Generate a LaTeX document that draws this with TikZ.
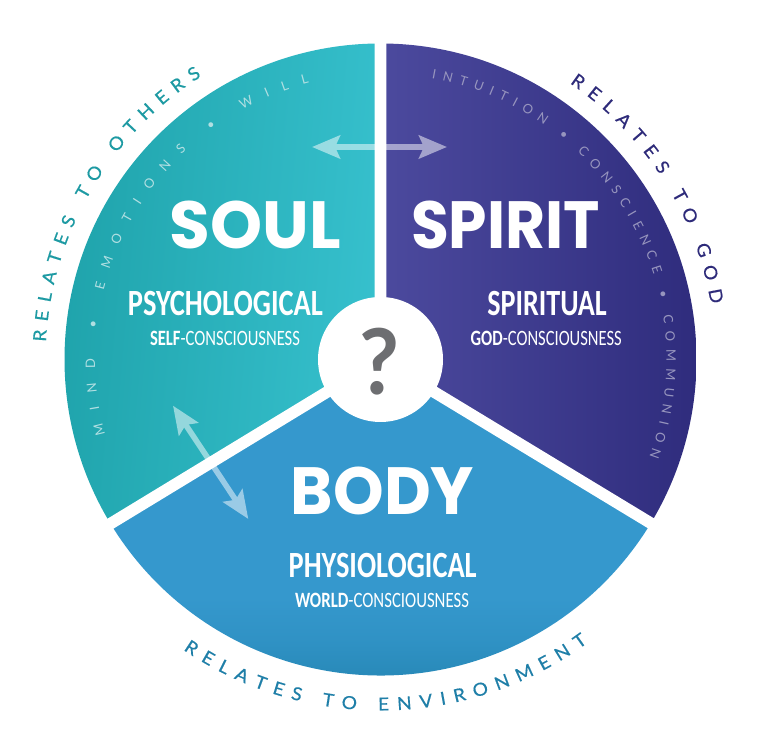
\documentclass[tikz,border=0pt]{standalone}
\usepackage{fontspec}
\usepackage{graphicx}
\usetikzlibrary{decorations.text,arrows.meta,calc}
\newfontfamily\titlefont{Poppins}
\newfontfamily\qfont{Lato}
\newfontfamily\curvefont[FakeBold=0.45,FakeStretch=1.06]{Lato}
\newfontfamily\innerfont{Lato}
\newfontfamily\subfont{Carlito}
\definecolor{soulD}{HTML}{1FA3AB}
\definecolor{soulL}{HTML}{37C1CE}
\definecolor{spiritL}{HTML}{4C4A9E}
\definecolor{spiritD}{HTML}{2F2C7D}
\definecolor{bodyM}{HTML}{3598CD}
\definecolor{bodyD}{HTML}{1F7FAA}
\definecolor{othersC}{HTML}{1D9AA3}
\definecolor{godC}{HTML}{2E2B7A}
\definecolor{envC}{HTML}{1F7FA8}
\definecolor{qC}{HTML}{6D6E71}
\pgfdeclareverticalshading{bodyshade}{100bp}{color(0bp)=(bodyD); color(25bp)=(bodyD); color(30bp)=(bodyD!65!bodyM); color(36bp)=(bodyD!25!bodyM); color(42bp)=(bodyM); color(100bp)=(bodyM)}
\newcommand{\fitt}[3]{\resizebox*{#1pt}{#2pt}{#3}}
\tikzset{
  lab/.style={inner sep=0pt,outer sep=0pt,text=white},
  outerlab/.style={decorate,decoration={text along path,text align=fit to path,text={#1}}},
  dblarrow/.style={draw=white,line width=5.6pt,{Stealth[length=28pt,width=23pt,inset=5pt]}-{Stealth[length=28pt,width=23pt,inset=5pt]}},
}
\begin{document}
\begin{tikzpicture}[x=1pt,y=1pt]
\useasboundingbox (0,0) rectangle (760,749);
\fill[white] (0,0) rectangle (760,749);
\coordinate (C) at (380.5,389.5);
\def\R{316}
% sectors
\shade[top color=soulD,bottom color=soulL,shading angle=85] (C) -- ($(C)+(90:\R)$) arc[start angle=90,end angle=211.3,radius=\R] -- cycle;
\shade[left color=spiritL,right color=spiritD] (C) -- ($(C)+(90:\R)$) arc[start angle=90,end angle=-31.2,radius=\R] -- cycle;
\shade[shading=bodyshade] (C) -- ($(C)+(211.3:\R)$) arc[start angle=211.3,end angle=328.8,radius=\R] -- cycle;
% gaps
\coordinate (T) at ($(C)+(90:325)$);
\coordinate (GL) at ($(C)+(211.3:325)$);
\coordinate (GR) at ($(C)+(-31.2:325)$);
\draw[white,line width=11.6pt] (C) -- (T) (C) -- (GL) (C) -- (GR);
\fill[white] (C) circle[radius=62.5];
% question mark
\node[lab,text=qC] (q) at (379.5,387) {\fitt{40}{67}{\qfont\bfseries ?}};
% arrows
\coordinate (h1) at (312,602);
\coordinate (h2) at (447,602);
\coordinate (d1) at (173,343.3);
\coordinate (d2) at (248.3,230);
\begin{scope}[transparency group,opacity=.5]
\draw[dblarrow] (h1) -- (h2);
\draw[dblarrow] (d1) -- (d2);
\end{scope}
% big titles
\node[lab] (soul) at (255.5,524) {\fitt{171}{48}{\titlefont\bfseries SOUL}};
\node[lab] (spirit) at (505.5,524) {\fitt{189}{48}{\titlefont\bfseries SPIRIT}};
\node[lab] (body) at (382.5,258) {\fitt{183}{48}{\titlefont\bfseries BODY}};
% subtitles
\node[lab] (psy) at (225.5,445.3) {\fitt{195}{24.5}{\subfont\bfseries PSYCHOLOGICAL}};
\node[lab] (spi) at (547,445.3) {\fitt{119.5}{24.5}{\subfont\bfseries SPIRITUAL}};
\node[lab] (phy) at (382.7,183.7) {\fitt{188}{24.5}{\subfont\bfseries PHYSIOLOGICAL}};
\node[lab] (self) at (225,411) {\fitt{150}{14.5}{\subfont{\bfseries SELF}-CONSCIOUSNESS}};
\node[lab] (god) at (546.2,411) {\fitt{151}{14.5}{\subfont{\bfseries GOD}-CONSCIOUSNESS}};
\node[lab] (world) at (382,148.5) {\fitt{174}{14.5}{\subfont{\bfseries WORLD}-CONSCIOUSNESS}};
% outer curved labels
\path[outerlab={|\fontsize{18}{18}\curvefont\color{othersC}|RELATES TO OTHERS}] ($(C)+(177:335)$) arc[start angle=177,end angle=122.3,radius=335];
\path[outerlab={|\fontsize{18}{18}\curvefont\color{godC}|RELATES TO GOD}] ($(C)+(55.6:335)$) arc[start angle=55.6,end angle=9.5,radius=335];
\path[outerlab={|\fontsize{18}{18}\curvefont\color{envC}|RELATES TO ENVIRONMENT}] ($(C)+(235.8:351)$) arc[start angle=235.8,end angle=306.2,radius=351];
% inner curved labels
\path[outerlab={|\fontsize{13}{13}\innerfont\color{white!65!soulD}|MIND • EMOTIONS • WILL}] ($(C)+(195.3:285.5)$) arc[start angle=195.3,end angle=104.5,radius=285.5];
\path[outerlab={|\fontsize{13}{13}\innerfont\color{white!50!spiritD}|INTUITION • CONSCIENCE • COMMUNION}] ($(C)+(79.7:286)$) arc[start angle=79.7,end angle=-20,radius=286];
\end{tikzpicture}
\end{document}
